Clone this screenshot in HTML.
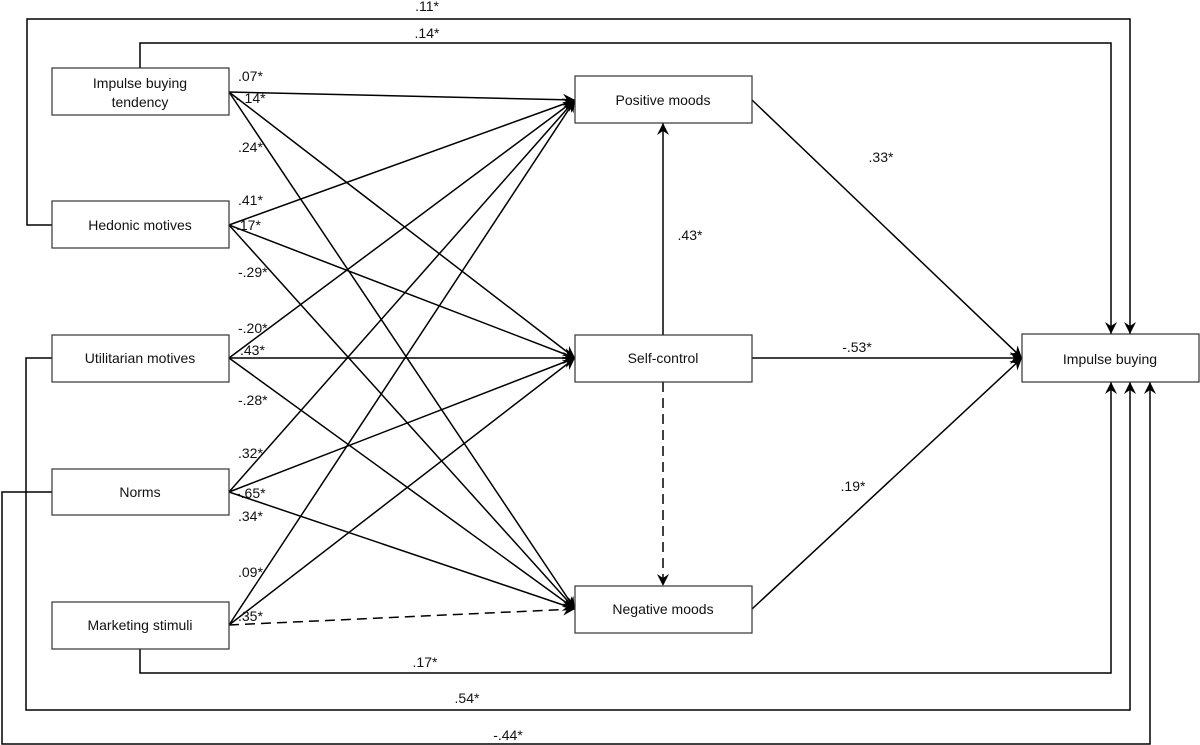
<!DOCTYPE html>
<html><head><meta charset="utf-8"><style>
html,body{margin:0;padding:0;background:#fff;}
svg{display:block;}
text{font-family:"Liberation Sans",sans-serif;font-size:14px;fill:#111;}
</style></head><body>
<svg width="1200" height="745" viewBox="0 0 1200 745" xmlns="http://www.w3.org/2000/svg">
<defs>
<marker id="a" viewBox="0 0 12 12" refX="12" refY="6" markerWidth="12" markerHeight="12" markerUnits="userSpaceOnUse" orient="auto">
<path d="M0,0 L12,6 L0,12 L4,6 Z" fill="#000"/>
</marker>
</defs>
<g stroke="#000" stroke-width="1.5" fill="none">
<!-- feedback lines -->
<polyline points="52,225 27,225 27,19 1130,19 1130,334" marker-end="url(#a)"/>
<polyline points="140,68 140,43 1111,43 1111,334" marker-end="url(#a)"/>
<polyline points="140,649 140,673 1111,673 1111,382" marker-end="url(#a)"/>
<polyline points="52,358 26,358 26,710 1130,710 1130,382" marker-end="url(#a)"/>
<polyline points="52,492 2,492 2,744 1150,744 1150,382" marker-end="url(#a)"/>
<!-- source -> mediators -->
<g marker-end="url(#a)">
<line x1="229" y1="92" x2="575" y2="100"/>
<line x1="229" y1="92" x2="575" y2="358"/>
<line x1="229" y1="92" x2="575" y2="609"/>
<line x1="229" y1="225" x2="575" y2="100"/>
<line x1="229" y1="225" x2="575" y2="358"/>
<line x1="229" y1="225" x2="575" y2="609"/>
<line x1="229" y1="358" x2="575" y2="100"/>
<line x1="229" y1="358" x2="575" y2="358"/>
<line x1="229" y1="358" x2="575" y2="609"/>
<line x1="229" y1="492" x2="575" y2="100"/>
<line x1="229" y1="492" x2="575" y2="358"/>
<line x1="229" y1="492" x2="575" y2="609"/>
<line x1="229" y1="625" x2="575" y2="100"/>
<line x1="229" y1="625" x2="575" y2="358"/>
<line x1="229" y1="625" x2="575" y2="609" stroke-dasharray="10,6"/>
<line x1="663" y1="335" x2="663" y2="123"/>
<line x1="663" y1="382" x2="663" y2="586" stroke-dasharray="10,6"/>
<line x1="752" y1="100" x2="1022" y2="358"/>
<line x1="752" y1="358" x2="1022" y2="358"/>
<line x1="752" y1="609" x2="1022" y2="358"/>
</g>
</g>
<g stroke="#333" stroke-width="1.2" fill="#fff">
<rect x="52" y="68" width="177" height="47"/>
<rect x="52" y="201" width="177" height="47"/>
<rect x="52" y="335" width="177" height="47"/>
<rect x="52" y="469" width="177" height="46"/>
<rect x="52" y="602" width="177" height="47"/>
<rect x="575" y="76" width="177" height="47"/>
<rect x="575" y="335" width="177" height="47"/>
<rect x="575" y="586" width="177" height="47"/>
<rect x="1022" y="334" width="177" height="48"/>
</g>
<g text-anchor="middle">
<text x="140" y="88">Impulse buying</text>
<text x="140" y="107">tendency</text>
<text x="140" y="230">Hedonic motives</text>
<text x="140" y="363">Utilitarian motives</text>
<text x="140" y="497">Norms</text>
<text x="140" y="630">Marketing stimuli</text>
<text x="663" y="105">Positive moods</text>
<text x="663" y="363">Self-control</text>
<text x="663" y="614">Negative moods</text>
<text x="1110" y="364">Impulse buying</text>
<text x="427" y="11">.11*</text>
<text x="427" y="38">.14*</text>
<text x="425" y="667">.17*</text>
<text x="467" y="703">.54*</text>
<text x="508" y="740">-.44*</text>
<text x="690" y="240">.43*</text>
<text x="881" y="162">.33*</text>
<text x="857" y="352">-.53*</text>
<text x="853" y="491">.19*</text>
</g>
<g>
<text x="238" y="81">.07*</text>
<text x="236" y="103">-.14*</text>
<text x="238" y="152">.24*</text>
<text x="238" y="205">.41*</text>
<text x="236" y="230">.17*</text>
<text x="238" y="277">-.29*</text>
<text x="238" y="333">-.20*</text>
<text x="240" y="355">.43*</text>
<text x="238" y="405">-.28*</text>
<text x="238" y="458">.32*</text>
<text x="236" y="498">-.65*</text>
<text x="238" y="521">.34*</text>
<text x="238" y="577">.09*</text>
<text x="238" y="621">.35*</text>
</g>
</svg>
</body></html>
